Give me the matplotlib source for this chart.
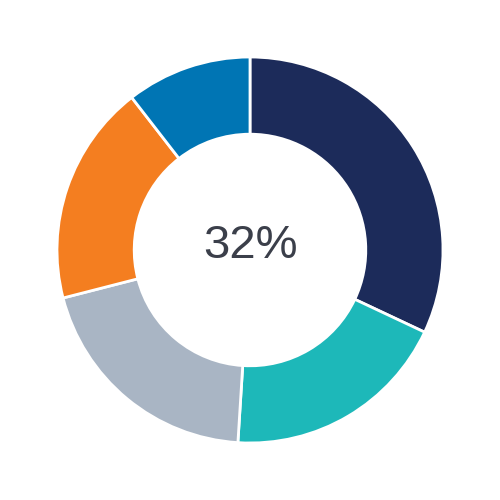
import matplotlib
matplotlib.use('Agg')
import matplotlib.pyplot as plt

# slice shares (percent), clockwise from 12 o'clock
labels = ['Navy', 'Teal', 'Gray', 'Orange', 'Blue']
values = [32, 19, 20, 18.5, 10.5]
colors = ['#1c2b5a', '#1db8b9', '#a9b5c4', '#f47e20', '#0075b4']
center_text = '32%'

fig = plt.figure(figsize=(5, 5), dpi=100)
ax = fig.add_axes([0, 0, 1, 1])

ax.pie(values, colors=colors, startangle=90, counterclock=False,
       radius=1.0,
       wedgeprops=dict(width=0.4, edgecolor='white', linewidth=2))

ax.text(0, 0.02, center_text, ha='center', va='center', fontsize=34,
        color='#3b3f4a', family=['Liberation Sans', 'DejaVu Sans'])

lim = 250 / 193
ax.set_xlim(-lim, lim)
ax.set_ylim(-lim, lim)
ax.set_aspect('equal')
ax.axis('off')

fig.savefig('out.png', dpi=100, facecolor='white')
